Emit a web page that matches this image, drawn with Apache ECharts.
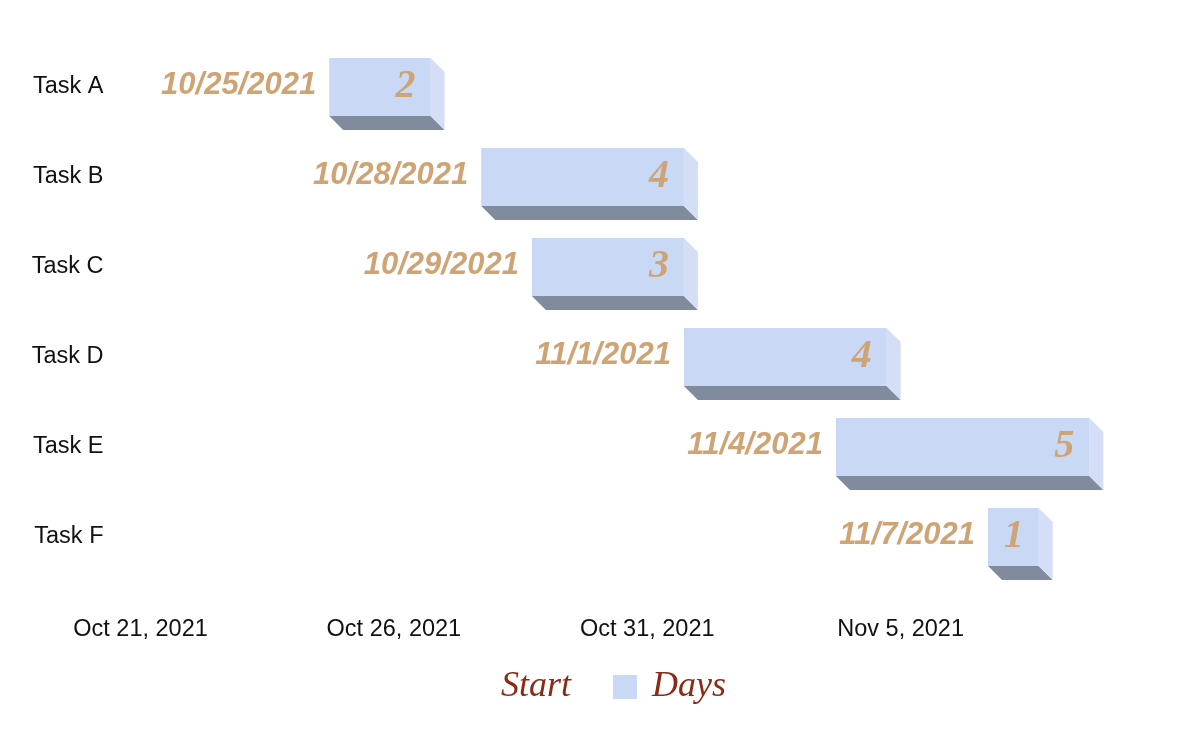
<!DOCTYPE html>
<html><head><meta charset="utf-8">
<script src="https://cdn.jsdelivr.net/npm/echarts@6/dist/echarts.min.js"></script>
<style>html,body{margin:0;padding:0;background:#fff}#c{width:1188px;height:734px}</style>
</head><body><div id="c"></div>
<script>
const tasks = ['Task A','Task B','Task C','Task D','Task E','Task F'];
const startDates = ['2021-10-25','2021-10-28','2021-10-29','2021-11-01','2021-11-04','2021-11-07'];
const durations = [2, 4, 3, 4, 5, 1];
const axisStart = '2021-10-21';
const axisEndDays = 20;
const tickStepDays = 5;

const DAY = 86400000;
function parse(s){const p=s.split('-').map(Number);return Date.UTC(p[0],p[1]-1,p[2]);}
const base = parse(axisStart);
const offsets = startDates.map(s => (parse(s)-base)/DAY);
const months = ['Jan','Feb','Mar','Apr','May','Jun','Jul','Aug','Sep','Oct','Nov','Dec'];
function fmtAxis(v){const d=new Date(base+v*DAY);return months[d.getUTCMonth()]+' '+d.getUTCDate()+', '+d.getUTCFullYear();}
function fmtShort(s){const d=new Date(parse(s));return (d.getUTCMonth()+1)+'/'+d.getUTCDate()+'/'+d.getUTCFullYear();}

const chart = echarts.init(document.getElementById('c'));
const DEPTH = 14, FACE_H = 58;
chart.setOption({
  animation:false,
  grid:{left:140.5, right:34, top:40, bottom:154},
  legend:{
    top:664, left:'center', itemWidth:24, itemHeight:24, itemGap:42,
    textStyle:{fontFamily:'"Liberation Serif", serif', fontStyle:'italic', fontSize:36, color:'#8B2A16', padding:[0,0,0,10]},
    data:[{name:'Start', icon:'rect'},{name:'Days', icon:'rect'}]
  },
  xAxis:{
    type:'value', min:0, max:axisEndDays, interval:tickStepDays,
    axisLine:{show:false}, axisTick:{show:false}, splitLine:{show:false},
    axisLabel:{margin:38, fontFamily:'"Liberation Sans", Arial, sans-serif', fontSize:23.5, color:'#111',
      formatter:v => (v % tickStepDays === 0 && v < axisEndDays) ? fmtAxis(v) : ''}
  },
  yAxis:{
    type:'category', inverse:true, data:tasks,
    axisLine:{show:false}, axisTick:{show:false}, splitLine:{show:false},
    axisLabel:{margin:37, fontFamily:'"Liberation Sans", Arial, sans-serif', fontSize:23.5, color:'#111',
      formatter:v => '{t|' + v + '}',
      rich:{t:{fontFamily:'"Liberation Sans", Arial, sans-serif', fontSize:23.5, color:'#111', padding:[4,0,0,0]}}}
  },
  series:[
    {
      name:'Start', type:'bar', data:offsets, barWidth:58,
      itemStyle:{color:'rgba(0,0,0,0)'},
      label:{show:true, position:'insideRight', distance:27,
        fontFamily:'"Liberation Sans", Arial, sans-serif', fontSize:31, fontWeight:'bold', fontStyle:'italic', color:'#CFA474',
        formatter:p => fmtShort(startDates[p.dataIndex])}
    },
    {
      name:'Days', type:'custom', itemStyle:{color:'#C9D9F5'},
      encode:{x:0, y:1},
      data: offsets.map((o,i)=>[o, i, durations[i]]),
      renderItem:function(params, api){
        const s = api.value(0), idx = api.value(1), d = api.value(2);
        const p0 = api.coord([s, idx]), p1 = api.coord([s+d, idx]);
        const x0 = p0[0]-DEPTH, x1 = p1[0]-DEPTH;
        const yt = p0[1]-FACE_H/2+2, yb = yt+FACE_H;
        return {type:'group', children:[
          {type:'polygon', shape:{points:[[x0,yb],[x1,yb],[x1+DEPTH,yb+DEPTH],[x0+DEPTH,yb+DEPTH]]}, style:{fill:'#808B9E'}},
          {type:'polygon', shape:{points:[[x1,yt],[x1+DEPTH,yt+DEPTH],[x1+DEPTH,yb+DEPTH],[x1,yb]]}, style:{fill:'#D4DEF7'}},
          {type:'rect', shape:{x:x0, y:yt, width:x1-x0, height:FACE_H}, style:{fill:'#C9D9F5'}},
          {type:'text', style:{text:String(d), x:x1-15, y:yt+FACE_H/2, align:'right', verticalAlign:'middle',
            font:'italic bold 40px "Liberation Serif", serif', fill:'#CFA474'}}
        ]};
      }
    }
  ]
});
</script></body></html>
